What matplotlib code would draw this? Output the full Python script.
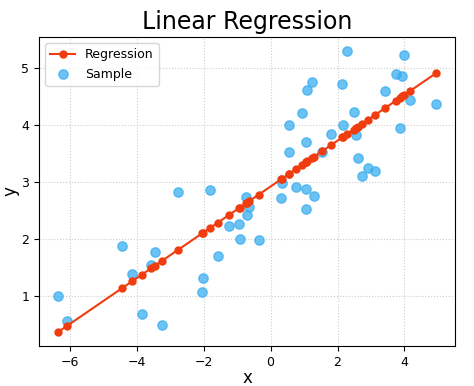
import numpy as np
import matplotlib
matplotlib.use("Agg")
import matplotlib.pyplot as plt

# sample points
x_sample = [-6.35, -6.08, -4.43, -4.14, -3.84, -3.56, -3.45, -3.24, -2.76, -2.03,
            -2.04, -1.81, -1.58, -1.25, -0.94, -0.92, -0.72, -0.64, -0.70, -0.36,
            0.34, 0.31, 0.55, 0.55, 0.77, 0.93, 1.05, 1.06, 1.06, 1.10,
            1.25, 1.29, 1.54, 1.82, 2.14, 2.17, 2.28, 2.48, 2.55, 2.60,
            2.73, 2.92, 3.13, 3.41, 3.75, 3.88, 3.93, 4.00, 4.16, 4.93]
y_sample = [1.01, 0.57, 1.89, 1.39, 0.69, 1.55, 1.78, 0.49, 2.83, 1.32,
            1.08, 2.86, 1.70, 2.23, 2.27, 2.01, 2.74, 2.57, 2.42, 1.99,
            2.99, 2.73, 3.53, 4.00, 2.92, 4.22, 3.70, 2.89, 2.54, 4.62,
            4.76, 2.76, 3.53, 3.85, 4.73, 4.00, 5.30, 4.24, 3.83, 3.43,
            3.11, 3.26, 3.20, 4.60, 4.90, 3.95, 4.86, 5.24, 4.45, 4.38]

x = np.array(x_sample)
y = np.array(y_sample)

# fit the line
coef, intercept = np.polyfit(x, y, 1)
x_sorted = np.sort(x)
y_pred = coef * x_sorted + intercept

fig = plt.figure(figsize=(4.74, 3.86), dpi=100)
ax = fig.add_axes([0.082, 0.104, 0.878, 0.80])

ax.plot(x_sorted, y_pred, color='#f03c0e', marker='o', markersize=5,
        linewidth=1.5, label='Regression', zorder=3)
ax.scatter(x, y, s=45, color='#3aaef0', alpha=0.75, label='Sample', zorder=2)

ax.set_xlim(-6.92, 5.51)
ax.set_ylim(0.13, 5.55)
ax.set_xticks([-6, -4, -2, 0, 2, 4])
ax.set_yticks([1, 2, 3, 4, 5])
ax.tick_params(labelsize=9)
ax.grid(True, linestyle=':', color='#cccccc', linewidth=0.8)

ax.set_title("Linear Regression", fontsize=17)
ax.set_xlabel("x", fontsize=12, labelpad=0)
ax.set_ylabel("y", fontsize=12, labelpad=1)
ax.legend(loc='upper left', fontsize=9)

fig.savefig("out.png", dpi=100)
